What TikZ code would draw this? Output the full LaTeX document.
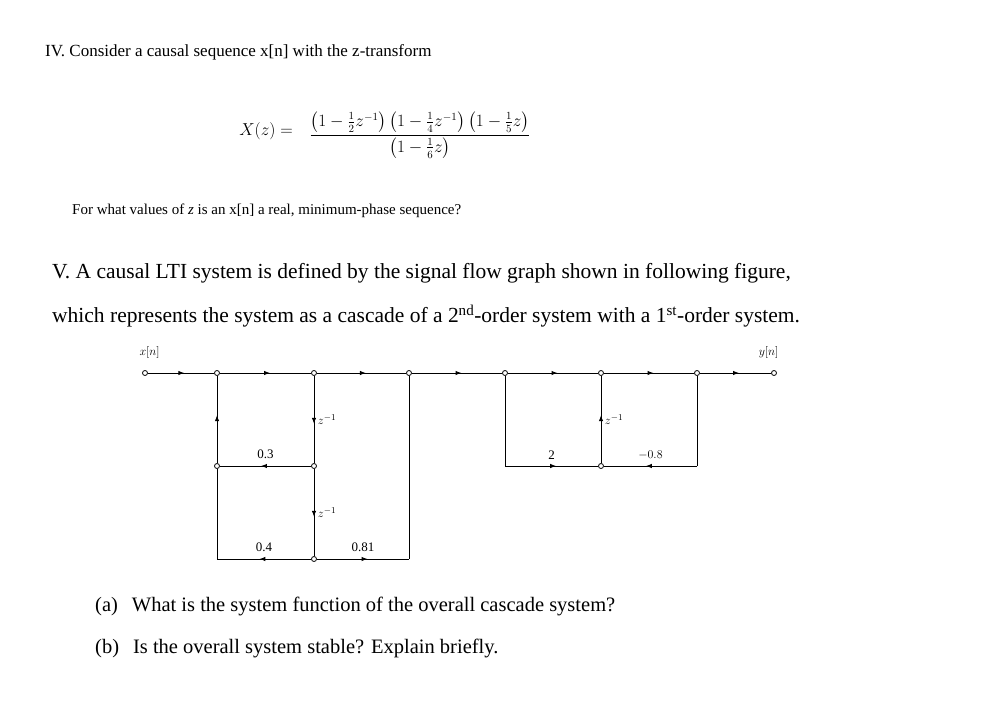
\documentclass[tikz,border=0pt]{standalone}
\usepackage{amsmath}
\usepackage{fontspec}
\setmainfont{Liberation Serif}
\usetikzlibrary{decorations.markings,arrows.meta}
\begin{document}
\begin{tikzpicture}[x=1pt,y=-1pt,
 nd/.style={circle,draw,fill=white,inner sep=0pt,minimum size=5pt,line width=0.8pt},
 br/.style={line width=1pt,postaction={decorate},decoration={markings,mark=at position 0.55 with {\arrow{Latex[length=6pt,width=4.5pt]}}}},
 ln/.style={line width=1pt},
 lb/.style={font=\fontsize{13}{15}\selectfont},
 txt/.style={anchor=west,inner sep=0pt}]
\useasboundingbox (0,0) rectangle (988,712);
% texts
\node[txt,font=\fontsize{17}{20}\selectfont] (t1) at (45,52) {IV. Consider a causal sequence x[n] with the z-transform};
\node[anchor=east,inner sep=0pt] (xz) at (293,131) {\fontsize{17}{20}\selectfont $X(z)=$};
\node[inner sep=0pt] (frac) at (420,135) {\fontsize{16}{20}\selectfont $\dfrac{\left(1-\frac{1}{2}z^{-1}\right)\left(1-\frac{1}{4}z^{-1}\right)\left(1-\frac{1}{5}z\right)}{\left(1-\frac{1}{6}z\right)}$};
\node[txt,font=\fontsize{15}{18}\selectfont] (t2) at (72,211) {For what values of \textit{z} is an x[n] a real, minimum-phase sequence?};
\node[txt,font=\fontsize{21.5}{26}\selectfont] (t3) at (52,273) {V. A causal LTI system is defined by the signal flow graph shown in following figure,};
\node[txt,font=\fontsize{21.5}{26}\selectfont] (t4) at (52,316) {which represents the system as a cascade of a 2\textsuperscript{nd}-order system with a 1\textsuperscript{st}-order system.};
\node[txt,font=\fontsize{20.5}{26}\selectfont] (qa) at (95,606) {(a)\hspace{14pt}What is the system function of the overall cascade system?};
\node[txt,font=\fontsize{20.5}{26}\selectfont] (qb) at (95,648) {(b)\hspace{14pt}Is the overall system stable? Explain briefly.};
% graph nodes
\node[nd] (x) at (145,373) {};
\node[nd] (a1) at (217,373) {};
\node[nd] (a2) at (314,373) {};
\node[nd] (a3) at (409,373) {};
\node[nd] (b1) at (505,373) {};
\node[nd] (b2) at (601,373) {};
\node[nd] (b3) at (697,373) {};
\node[nd] (y) at (774,373) {};
\node[nd] (m1) at (217,466) {};
\node[nd] (m2) at (314,466) {};
\node[nd] (m3) at (601,466) {};
\node[nd] (l2) at (314,559) {};
\coordinate (l1) at (217,559);
\coordinate (l3) at (409,559);
\coordinate (c1) at (505,466);
\coordinate (c2) at (697,466);
\node[lb,anchor=south west] at (136,362) {$x[n]$};
\node[lb,anchor=south east] at (782,362) {$y[n]$};
% branches
\draw[br] (x) -- (a1);
\draw[br] (a1) -- (a2);
\draw[br] (a2) -- (a3);
\draw[br] (a3) -- (b1);
\draw[br] (b1) -- (b2);
\draw[br] (b2) -- (b3);
\draw[br] (b3) -- (y);
\draw[br] (m1) -- (a1);
\draw[br] (a2) -- node[lb,right,pos=0.5]{$z^{-1}$} (m2);
\draw[br] (m2) -- node[lb,above=3pt]{0.3} (m1);
\draw[br] (m2) -- node[lb,right,pos=0.5]{$z^{-1}$} (l2);
\draw[ln] (m1) -- (l1);
\draw[br] (l2) -- node[lb,above=3pt]{0.4} (l1);
\draw[br] (l2) -- node[lb,above=3pt]{0.81} (l3);
\draw[ln] (l3) -- (a3);
\draw[ln] (b1) -- (c1);
\draw[br] (c1) -- node[lb,above=3pt]{2} (m3);
\draw[br] (m3) -- node[lb,right,pos=0.5]{$z^{-1}$} (b2);
\draw[ln] (b3) -- (c2);
\draw[br] (c2) -- node[lb,above=3pt]{$-0.8$} (m3);
\end{tikzpicture}
\end{document}
